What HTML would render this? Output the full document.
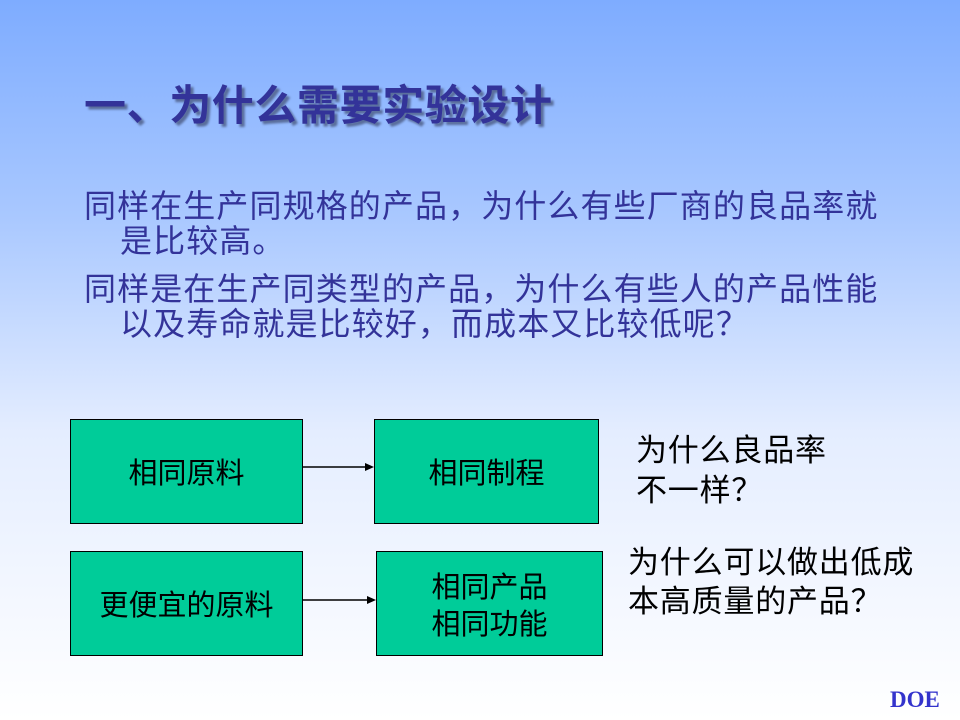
<!DOCTYPE html>
<html><head><meta charset="utf-8"><style>
body{margin:0;width:960px;height:720px;overflow:hidden;position:relative;
background:linear-gradient(to bottom,#7eacff 0%,#a9c8ff 30%,#e4edff 60%,#ffffff 100%);
font-family:"Noto Sans CJK SC",sans-serif;}
.t{position:absolute;white-space:nowrap;}
.title{left:84px;top:78px;font-size:42px;font-weight:bold;color:#333399;line-height:50px;letter-spacing:0.6px;text-shadow:3px 3px 2px #5a6e9c;}
.body{color:#333399;font-size:32px;line-height:36px;letter-spacing:1.1px;}
.box{position:absolute;background:#00cc99;border:1px solid #000;box-sizing:border-box;display:flex;align-items:center;justify-content:center;text-align:center;font-size:29px;line-height:37px;color:#000;}
.q{color:#000;font-size:31px;line-height:40px;letter-spacing:0.8px;}
.fw{font-family:"Noto Sans CJK SC",sans-serif;}
</style></head><body>
<div class="t title">一、为什么需要实验设计</div>
<div class="t body" style="left:84px;top:186px">同样在生产同规格的产品，为什么有些厂商的良品率就</div>
<div class="t body" style="left:120px;top:221px">是比较高。</div>
<div class="t body" style="left:84px;top:269px">同样是在生产同类型的产品，为什么有些人的产品性能</div>
<div class="t body" style="left:120px;top:304px">以及寿命就是比较好，而成本又比较低呢<span class="fw">？</span></div>
<div class="box" style="left:70px;top:419px;width:233px;height:105px">相同原料</div>
<div class="box" style="left:374px;top:419px;width:225px;height:105px">相同制程</div>
<div class="box" style="left:70px;top:551px;width:233px;height:105px">更便宜的原料</div>
<div class="box" style="left:376px;top:551px;width:227px;height:105px">相同产品<br>相同功能</div>
<svg style="position:absolute;left:0;top:0" width="960" height="720">
<line x1="303" y1="467" x2="368" y2="467" stroke="#000" stroke-width="1.5"/>
<polygon points="374,467 365,463 365,471" fill="#000"/>
<line x1="303" y1="600" x2="370" y2="600" stroke="#000" stroke-width="1.5"/>
<polygon points="376,600 367,596 367,604" fill="#000"/>
</svg>
<div class="t q" style="left:636px;top:428px">为什么良品率</div>
<div class="t q" style="left:636px;top:468px">不一样<span class="fw">？</span></div>
<div class="t q" style="left:628px;top:540px">为什么可以做出低成</div>
<div class="t q" style="left:628px;top:579px">本高质量的产品<span class="fw">？</span></div>
<div class="t" style="left:890px;top:687px;font-family:'Liberation Serif',serif;font-weight:bold;font-size:23px;color:#3333cc">DOE</div>
</body></html>
